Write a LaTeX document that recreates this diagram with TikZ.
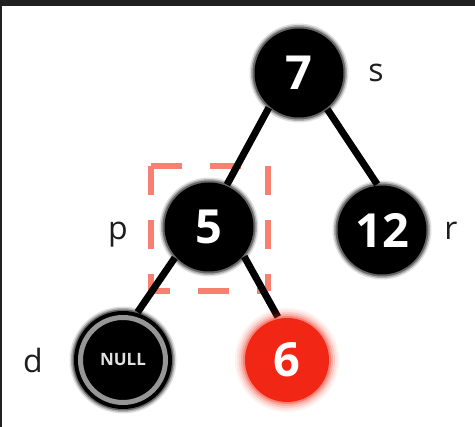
\documentclass[tikz,border=0pt]{standalone}
\usepackage{fontspec}
\setmainfont{Open Sans}
\definecolor{barc}{RGB}{33,33,33}
\definecolor{boxc}{RGB}{248,128,114}
\definecolor{redc}{RGB}{242,38,20}
\definecolor{ringc}{RGB}{150,150,150}
\definecolor{nulltxt}{RGB}{225,225,225}
\definecolor{labc}{RGB}{30,30,30}
\begin{document}
\begin{tikzpicture}[x=1pt,y=-1pt,
  bnode/.style={circle, fill=black, inner sep=0pt, minimum size=89pt,
    text=white, font=\bfseries\fontsize{47}{47}\selectfont,
    preaction={draw=black, line width=10pt, opacity=.12},
    preaction={draw=black, line width=7pt, opacity=.22},
    preaction={draw=black, line width=4pt, opacity=.4}},
  rnode/.style={circle, fill=redc, inner sep=0pt, minimum size=84pt,
    text=white, font=\bfseries\fontsize{47}{47}\selectfont,
    preaction={draw=redc, line width=20pt, opacity=.06},
    preaction={draw=redc, line width=16pt, opacity=.08},
    preaction={draw=redc, line width=12pt, opacity=.12},
    preaction={draw=redc, line width=8pt, opacity=.18},
    preaction={draw=redc, line width=4pt, opacity=.3}},
  nnode/.style={circle, fill=black, inner sep=0pt, minimum size=98pt,
    text=nulltxt, font=\bfseries\fontsize{17}{17}\selectfont,
    preaction={draw=black, line width=9pt, opacity=.12},
    preaction={draw=black, line width=6pt, opacity=.22},
    preaction={draw=black, line width=3pt, opacity=.4},
    path picture={\draw[ringc, line width=5pt]
      (path picture bounding box.center) circle (42.5pt);}},
  edge/.style={line width=7pt, black},
  lab/.style={text=labc, font=\fontsize{32}{32}\selectfont, inner sep=0pt},
  hdash/.style={boxc, line width=6pt, dash pattern=on 31pt off 28pt},
  vdash/.style={boxc, line width=6pt, dash pattern=on 29pt off 25pt}
]
\fill[white] (0,0) rectangle (475,427);
\fill[barc] (0,0) rectangle (475,6);
\fill[barc] (0,0) rectangle (1.5,427);
\useasboundingbox (0,0) rectangle (475,427);

% dashed selection box
\coordinate (b1) at (151,166);
\coordinate (b2) at (268,166);
\coordinate (b3) at (268,291);
\coordinate (b4) at (151,291);
\draw[hdash] (b1) -- (b2);
\draw[vdash] (b2) -- (b3);
\draw[hdash, dash phase=12pt] (b4) -- (b3);
\draw[vdash] (b1) -- (b4);

% node positions
\coordinate (c7) at (299,73);
\coordinate (c5) at (209,227);
\coordinate (c12) at (382,230);
\coordinate (cd) at (123,360);
\coordinate (c6) at (287,360);

% edges (drawn below nodes); y axis points down, so angles are mirrored
\path (c7) ++(131:46) coordinate (e1a);
\path (c5) ++(-67:46) coordinate (e1b);
\path (c7) ++(52:46) coordinate (e2a);
\path (c12) ++(-96:46) coordinate (e2b);
\path (c5) ++(138:46) coordinate (e3a);
\path (cd) ++(-73:50) coordinate (e3b);
\path (c5) ++(40:46) coordinate (e4a);
\path (c6) ++(-102:44) coordinate (e4b);
\draw[edge] (e1a) -- (e1b);
\draw[edge] (e2a) -- (e2b);
\draw[edge] (e3a) -- (e3b);
\draw[edge] (e4a) -- (e4b);

\node[bnode] (n7) at (c7) {7};
\node[bnode] (n5) at (c5) {5};
\node[bnode] (n12) at (c12) {12};
\node[nnode] (nd) at (cd) {NULL};
\node[rnode] (n6) at (c6) {6};

\node[lab, anchor=base] (ls) at (376,82) {s};
\node[lab, anchor=base] (lp) at (118,240) {p};
\node[lab, anchor=base] (lr) at (451,240) {r};
\node[lab, anchor=base] (ld) at (33,373) {d};
\end{tikzpicture}
\end{document}
